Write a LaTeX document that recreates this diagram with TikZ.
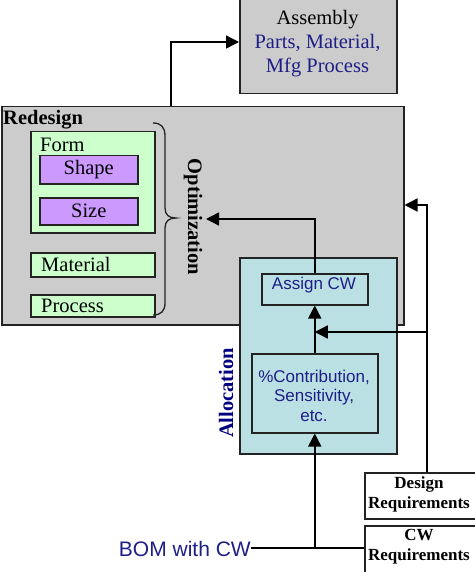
\documentclass[tikz,border=0pt]{standalone}
\usepackage{fontspec}
\setmainfont{Liberation Serif}
\setsansfont{Liberation Sans}
\usetikzlibrary{arrows.meta}
\definecolor{boxgray}{RGB}{204,204,204}
\definecolor{formgreen}{RGB}{204,255,204}
\definecolor{sizepurple}{RGB}{204,153,255}
\definecolor{allocteal}{RGB}{187,224,227}
\definecolor{navytext}{RGB}{30,30,135}
\definecolor{darknavy}{RGB}{0,0,128}
\definecolor{edgegray}{RGB}{35,35,35}
\tikzset{
  box/.style={draw=edgegray, line width=1.5pt, inner sep=0pt, anchor=north west},
  serif20/.style={font=\fontsize{20.5}{24}\selectfont, inner sep=0pt},
  serifbold/.style={font=\fontsize{20.5}{24}\selectfont\bfseries, inner sep=0pt},
  reqtext/.style={font=\fontsize{17}{20}\selectfont\bfseries, inner sep=0pt, align=center},
  sanstext/.style={font=\fontsize{17}{19.5}\sffamily\selectfont, text=navytext, inner sep=0pt, align=center},
  arr/.style={line width=1.5pt, -{Triangle[length=13pt,width=13pt]}},
  conn/.style={line width=1.5pt},
}
\begin{document}
\begin{tikzpicture}[x=1pt,y=-1pt]
\useasboundingbox (0,0) rectangle (474,572);
% Assembly
\node[box, fill=boxgray, minimum width=157pt, minimum height=95pt] (asm) at (239,-2) {};
\node[serif20, align=center] (asmtxt) at (317.5,44) {Assembly\\\textcolor{navytext}{Parts, Material,}\\\textcolor{navytext}{Mfg Process}};
% Redesign
\node[box, fill=boxgray, minimum width=402pt, minimum height=218pt] (rd) at (1,106) {};
\node[serifbold, anchor=west] (rdlab) at (3,120) {Redesign};
% Form
\node[box, fill=formgreen, minimum width=124pt, minimum height=101pt] (form) at (30,131) {};
\node[serif20, anchor=west] (formlab) at (40,145) {Form};
\node[box, fill=sizepurple, minimum width=98pt, minimum height=28pt] (shape) at (39,155) {};
\node[serif20] (shapetxt) at (shape.center) {Shape};
\node[box, fill=sizepurple, minimum width=98pt, minimum height=27pt] (size) at (39,197) {};
\node[serif20] (sizetxt) at (size.center) {Size};
\node[box, fill=formgreen, minimum width=124pt, minimum height=24pt] (mat) at (30,252) {};
\node[serif20, anchor=west] (mattxt) at (41,264) {Material};
\node[box, fill=formgreen, minimum width=124pt, minimum height=22pt] (proc) at (30,294) {};
\node[serif20, anchor=west] (proctxt) at (41,306) {Process};
% Brace
\draw[line width=1.3pt, edgegray] (153,123) .. controls (161,123) and (165,127) .. (165,136)
  -- (165,208) .. controls (165,215) and (169,218) .. (176,218)
  .. controls (169,218) and (165,221) .. (165,228)
  -- (165,303) .. controls (165,311) and (161,315) .. (153,315);
\node[serifbold, rotate=-90] (opt) at (193,217) {Optimization};
% Allocation
\node[box, fill=allocteal, minimum width=157pt, minimum height=196pt] (alloc) at (239,257) {};
\node[serifbold, rotate=90, text=darknavy] (alloclab) at (226,393) {Allocation};
\node[box, minimum width=106pt, minimum height=31pt] (assign) at (261,273) {};
\node[sanstext] (assigntxt) at (314,285) {Assign CW};
\node[box, minimum width=126pt, minimum height=79pt] (contrib) at (251,353) {};
\node[sanstext] (contribtxt) at (314,395.5) {\%Contribution,\\Sensitivity,\\etc.};
% Requirements
\node[box, fill=white, minimum width=112pt, minimum height=46pt] (dr) at (364,472) {};
\node[reqtext] (drtxt) at (419,494) {Design\\Requirements};
\node[box, fill=white, minimum width=112pt, minimum height=56pt] (cwr) at (364,525) {};
\node[reqtext] (cwrtxt) at (419,547) {CW\\Requirements};
% BOM
\node[font=\fontsize{21}{24}\sffamily\selectfont, text=navytext, inner sep=0pt, anchor=east] (bom) at (251,549) {BOM with CW};
% Coordinates
\coordinate (c1) at (171,42);
\coordinate (v) at (427,205);
\coordinate (h) at (427,332);
\coordinate (o) at (206,219);
\coordinate (b) at (251,548);
% Connectors
\draw[arr] (c1 |- rd.north) |- (asm.west |- c1);
\draw[conn] (b) -- (cwr.west |- b);
\draw[arr] (contrib.south |- b) -- (contrib.south);
\draw[arr] (contrib.north) -- (assign.south);
\draw[arr] (v |- dr.north) -- (v) -- (v -| rd.east);
\draw[arr] (h) -- (h -| assign.south);
\draw[arr] (assign.north) |- (o);
\end{tikzpicture}
\end{document}
